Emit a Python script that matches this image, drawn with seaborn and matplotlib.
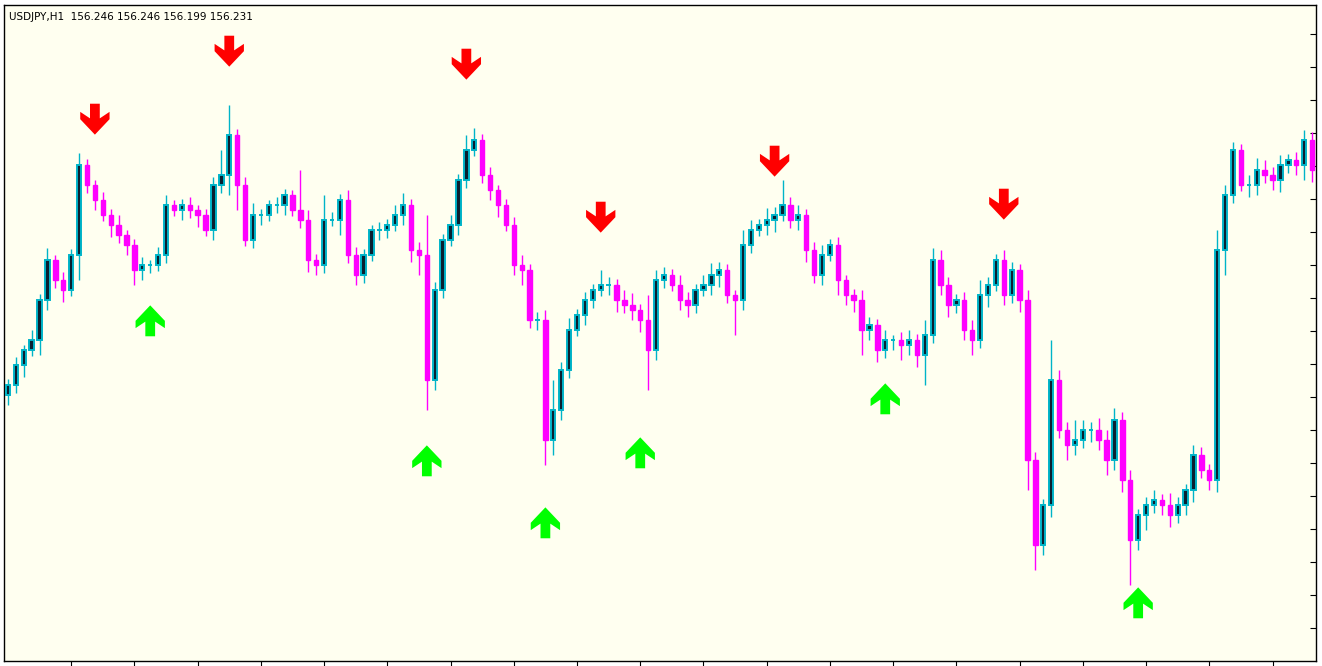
import numpy as np
import pandas as pd
import matplotlib
matplotlib.use("Agg")
import matplotlib.pyplot as plt
import seaborn as sns
from matplotlib.path import Path

sns.set_style("white")
plt.rcParams['font.family'] = ['DejaVu Sans']

# close levels (screen pixel rows, converted to price below)
close_px = [385, 365, 350, 340, 300, 260, 280, 290, 255, 165, 185, 200, 215, 225, 235, 245, 270, 265, 265, 255,
            205, 210, 205, 210, 215, 230, 185, 175, 135, 185, 240, 215, 215, 205, 205, 195, 210, 220, 260, 265,
            220, 220, 200, 255, 275, 255, 230, 230, 225, 215, 205, 250, 255, 380, 290, 240, 225, 180, 150, 140,
            175, 190, 205, 225, 265, 270, 320, 320, 440, 410, 370, 330, 315, 300, 290, 285, 285, 300, 305, 310,
            320, 350, 280, 275, 285, 300, 305, 290, 285, 275, 270, 295, 300, 245, 230, 225, 220, 215, 205, 220,
            215, 250, 275, 255, 245, 280, 295, 300, 330, 325, 350, 340, 340, 345, 340, 355, 335, 260, 285, 305,
            300, 330, 340, 295, 285, 260, 295, 270, 300, 460, 545, 505, 380, 430, 445, 440, 430, 430, 440, 460,
            420, 480, 540, 515, 505, 500, 505, 515, 505, 490, 455, 470, 480, 250, 195, 150, 185, 185, 170, 175,
            180, 165, 160, 165, 140, 170]
upper_wick = [6, 8, 5, 10, 6, 12, 5, 8, 6, 12, 6, 5, 8, 6, 10, 5, 6, 8, 5, 8,
              10, 5, 6, 8, 5, 6, 8, 25, 30, 6, 8, 12, 6, 5, 8, 6, 5, 40, 10, 6,
              25, 8, 6, 10, 8, 6, 5, 8, 6, 10, 12, 6, 8, 40, 8, 6, 10, 6, 15, 12,
              6, 8, 5, 6, 8, 10, 6, 8, 10, 30, 8, 12, 6, 8, 6, 15, 8, 6, 10, 12,
              6, 25, 10, 8, 6, 10, 8, 6, 10, 12, 8, 6, 5, 15, 10, 6, 12, 8, 25, 8,
              10, 6, 8, 10, 6, 8, 5, 6, 10, 8, 6, 10, 5, 8, 10, 6, 15, 12, 10, 8,
              6, 8, 10, 15, 8, 6, 10, 8, 6, 10, 8, 6, 40, 10, 8, 20, 10, 8, 12, 10,
              12, 8, 10, 6, 8, 10, 6, 12, 8, 6, 10, 8, 6, 20, 10, 8, 6, 10, 12, 10,
              8, 10, 6, 8, 10, 8]
lower_wick = [10, 8, 12, 6, 15, 10, 8, 12, 6, 25, 8, 10, 6, 12, 8, 10, 15, 10, 8, 6,
              8, 6, 10, 8, 12, 6, 10, 8, 20, 25, 6, 8, 10, 6, 8, 10, 6, 8, 12, 10,
              8, 6, 15, 8, 10, 8, 6, 10, 8, 6, 10, 12, 20, 30, 10, 8, 6, 10, 8, 6,
              8, 10, 12, 6, 10, 15, 8, 10, 25, 15, 10, 8, 6, 10, 8, 6, 10, 12, 8, 10,
              12, 40, 10, 8, 6, 10, 12, 8, 6, 10, 12, 8, 35, 10, 8, 6, 10, 12, 6, 8,
              10, 12, 8, 10, 6, 15, 10, 12, 25, 10, 12, 8, 10, 15, 10, 12, 30, 8, 10, 12,
              8, 10, 15, 8, 12, 6, 10, 8, 12, 30, 25, 10, 12, 8, 15, 10, 8, 12, 10, 15,
              10, 12, 45, 10, 15, 8, 10, 12, 8, 10, 12, 8, 10, 12, 25, 8, 6, 12, 10, 8,
              10, 12, 8, 10, 15, 12]

# signal arrows: bar index and pixel row of the arrow centre
down_idx = [11, 28, 58, 75, 97, 126]
down_px = [120, 52, 65, 218, 162, 205]
up_idx = [18, 53, 68, 80, 111, 143]
up_px = [320, 460, 522, 452, 398, 602]


def to_price(px):
    return 158.0 - np.asarray(px, dtype=float) * 0.005


close = to_price(close_px)
open_ = np.concatenate([[to_price(395)], close[:-1]])
high = np.maximum(open_, close) + np.asarray(upper_wick) * 0.005
low = np.minimum(open_, close) - np.asarray(lower_wick) * 0.005
bars = pd.DataFrame({"i": np.arange(len(close)), "open": open_, "close": close,
                     "high": high, "low": low})
bars["bull"] = bars["close"] >= bars["open"]

fig = plt.figure(figsize=(13.22, 6.66), dpi=100, facecolor="white")
ax = fig.add_axes([4 / 1322, 5 / 666, 1312 / 1322, 656 / 666])
ax.set_facecolor("#FFFFF0")

cyan = "#00B4C8"
mag = "#FF00FF"
for _, b in bars.iterrows():
    col = cyan if b["bull"] else mag
    ax.vlines(b["i"], b["low"], b["high"], color=col, lw=1, zorder=2)
    lo, hi = sorted([b["open"], b["close"]])
    h = max(hi - lo, 0.002)
    if b["bull"]:
        ax.bar(b["i"], h, bottom=lo, width=0.55, color="#0A2030", edgecolor=cyan, lw=1.4, zorder=3)
    else:
        ax.bar(b["i"], h, bottom=lo, width=0.55, color=mag, edgecolor=mag, lw=1.0, zorder=3)

# arrow markers
down_arrow = Path([(-0.3, 1), (0.3, 1), (0.3, 0.1), (0.9, 0.5), (0.9, 0.05), (0, -0.9),
                   (-0.9, 0.05), (-0.9, 0.5), (-0.3, 0.1), (-0.3, 1)])
up_arrow = Path([(x, -y) for x, y in down_arrow.vertices])
sig_dn = pd.DataFrame({"i": down_idx, "p": to_price(down_px)})
sig_up = pd.DataFrame({"i": up_idx, "p": to_price(up_px)})
sns.scatterplot(data=sig_dn, x="i", y="p", marker=down_arrow, s=550, color="#FF0000",
                edgecolor="none", ax=ax, zorder=4)
sns.scatterplot(data=sig_up, x="i", y="p", marker=up_arrow, s=550, color="#00FF00",
                edgecolor="none", ax=ax, zorder=4)

ax.set_xlim(-0.5, len(close) - 0.5)
ax.set_ylim(to_price(661), to_price(5))
ax.set_xlabel("")
ax.set_ylabel("")
for s in ax.spines.values():
    s.set_color("black")
    s.set_linewidth(1)
ax.set_xticks(np.arange(8, len(close), 8))
ax.set_xticklabels([])
ax.set_yticks(np.arange(to_price(661), to_price(5), 0.165)[1:])
ax.set_yticklabels([])
ax.tick_params(axis="x", direction="out", length=4, color="black", bottom=True)
ax.tick_params(axis="y", direction="in", length=4, color="black", left=False, right=True)

ax.text(0.004, 0.99, "USDJPY,H1  156.246 156.246 156.199 156.231", transform=ax.transAxes,
        fontsize=7.5, va="top", ha="left", color="black")

fig.savefig("out.png", dpi=100)
